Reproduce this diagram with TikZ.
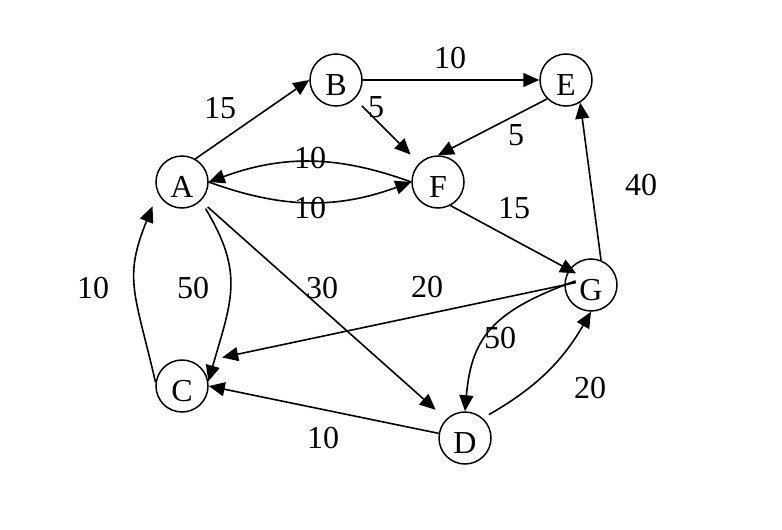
\documentclass[tikz,border=0pt]{standalone}
\usepackage{fontspec}
\setmainfont{Liberation Serif}
\usetikzlibrary{arrows.meta}
\begin{document}
\begin{tikzpicture}[x=1pt,y=-1pt,
  vtx/.style={draw,circle,line width=1.5pt,minimum size=52pt,inner sep=0pt,
    font=\fontsize{32}{32}\selectfont,text height=30pt,text depth=0pt},
  edge/.style={line width=1.6pt,-{Triangle[length=16pt,width=14pt]}},
  wt/.style={font=\fontsize{32}{32}\selectfont,inner sep=0pt}]
\useasboundingbox[fill=white] (0,0) rectangle (782,530);
% vertices
\node[vtx] (A) at (182,182) {A};
\node[vtx] (B) at (336,80) {B};
\node[vtx] (E) at (566,80) {E};
\node[vtx] (F) at (438,182) {F};
\node[vtx] (G) at (591,285) {G};
\node[vtx] (D) at (465,438) {D};
\node[vtx] (C) at (182,386) {C};
% edges
\draw[edge] (A.60) -- (B.west);
\draw[edge] (B.east) -- (E.west);
\draw[edge,shorten <=10pt,shorten >=12pt] (B.-45) -- (F.135);
\draw[edge] (E.-135) -- (F.north);
\draw[edge] (F.west) to[bend right=20] (A.east);
\draw[edge] (A.east) to[bend right=20] (F.west);
\draw[edge,shorten <=9pt] (A.-45) to[out=-59,in=74,looseness=1.2] (C.10);
\draw[edge,shorten >=14pt] (C.172) to[out=103,in=-112,looseness=1.25] (A.-155);
\draw[edge,shorten <=9pt,shorten >=14pt] (A.-45) -- (D.135);
\draw[edge,shorten <=-12pt,shorten >=27pt] (G.west) -- (C.59);
\draw[edge] (D.170) -- (C.east);
\draw[edge,shorten >=-8pt] (F.-62) -- (G.145);
\draw[edge] (G.68) -- (E.-58);
\draw[edge,shorten <=-12pt] (G.west) to[out=-160,in=85,looseness=1.2] (D.north);
\draw[edge,shorten <=7pt] (D.48) to[out=30,in=-120] (G.south);
% weights
\node[wt] (wAB) at (220,108) {15};
\node[wt] (wBE) at (450,58) {10};
\node[wt] (wBF) at (376,107) {5};
\node[wt] (wEF) at (516,135) {5};
\node[wt] (wFA) at (310,158) {10};
\node[wt] (wAF) at (310,208) {10};
\node[wt] (wFG) at (514,208) {15};
\node[wt] (wGE) at (641,185) {40};
\node[wt] (wCA) at (93,288) {10};
\node[wt] (wAC) at (193,288) {50};
\node[wt] (wAD) at (322,288) {30};
\node[wt] (wGC) at (427,287) {20};
\node[wt] (wGD) at (500,338) {50};
\node[wt] (wDG) at (590,388) {20};
\node[wt] (wDC) at (323,438) {10};
\end{tikzpicture}
\end{document}
